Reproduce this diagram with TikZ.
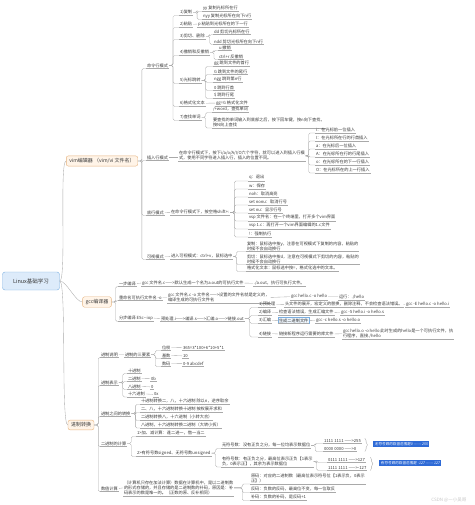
\documentclass[tikz,border=0pt]{standalone}
\usepackage{fontspec}
\setmainfont{Noto Sans CJK SC}
\newfontfamily\slantcjk[FakeSlant=0.18]{Noto Sans CJK SC}
\usetikzlibrary{calc, decorations.pathreplacing}

\definecolor{linegray}{HTML}{A9A9A9}
\definecolor{inkgray}{HTML}{3A3A3A}
\definecolor{rootfill}{HTML}{DDEBFA}
\definecolor{rootline}{HTML}{7AAEE0}
\definecolor{topicfill}{HTML}{FFF4E8}
\definecolor{topicline}{HTML}{E6B37E}
\definecolor{rangeblue}{HTML}{2E6AD6}

\begin{document}
\begin{tikzpicture}[
    x=1pt, y=-1pt,
    leaf/.style={anchor=south west, inner xsep=0.8pt, inner ysep=0.9pt,
      font=\fontsize{4.2}{5}\selectfont, text=inkgray, align=left,
      append after command={(\tikzlastnode.south west)
        edge[draw=linegray, line width=0.35pt] (\tikzlastnode.south east)}},
    link/.style={draw=linegray, line width=0.35pt, rounded corners=1.5pt},
    topic/.style={draw=topicline, fill=topicfill, rounded corners=2pt,
      font=\fontsize{5}{6}\selectfont, text=inkgray,
      inner xsep=3pt, inner ysep=2.5pt},
    hilite/.style={leaf, draw=rootline, fill=rootfill!50},
    rangebox/.style={anchor=west, fill=rangeblue, text=white, inner sep=1.5pt,
      font=\slantcjk\fontsize{3.6}{4.4}\selectfont},
    brace/.style={draw=linegray, line width=0.35pt,
      decorate, decoration={brace, amplitude=2.5pt}}
  ]
  \useasboundingbox (0,0) rectangle (474,505);

  % root and the three main topics
  \node[draw=rootline, fill=rootfill, rounded corners=2.5pt,
        minimum width=57pt, minimum height=18pt,
        font=\fontsize{5.5}{6.5}\selectfont, text=inkgray] (root) at (31,281)
    {Linux基础学习};
  \node[topic] (vim) at (102,161) {vim编辑器 （vim/vi 文件名）};
  \node[topic] (gcc) at (97,302) {gcc编译器};
  \node[topic] (jz) at (81,425) {进制转换};
  \foreach \b in {vim,gcc,jz}
    \draw[link] (root.east) .. controls +(7,0) and +(-7,0) .. (\b.west);

  % vim editor
  \node[leaf] (cmd) at (146,68.5) {命令行模式};
  \node[leaf] (ins) at (146,160.5) {插入行模式};
  \node[leaf] (bot) at (146,215.5) {底行模式};
  \node[leaf] (vis) at (146,259.5) {可视模式};
  \foreach \k in {cmd,ins,bot,vis}
    \draw[link] (vim.east) -- ++(4,0) |- (\k.south west);

  \node[leaf] (c1) at (179,15.5) {1)复制};
  \node[leaf] (c1a) at (202,11.5) {yy 复制光标所在行};
  \node[leaf] (c1b) at (202,19.5) {nyy 复制光标所在向下n行};
  \node[leaf] (c2) at (179,27.5) {2)粘贴};
  \node[leaf] (c2a) at (197,27.5) {p 粘贴到光标所在的下一行};
  \node[leaf] (c3) at (179,39.5) {3)剪切、删除};
  \node[leaf] (c3a) at (213,34.5) {dd 剪切光标所在行};
  \node[leaf] (c3b) at (213,44.5) {ndd 剪切光标所在向下n行};
  \node[leaf] (c4) at (179,55.5) {4)撤销和反撤销};
  \node[leaf] (c4a) at (218,50.5) {u 撤销};
  \node[leaf] (c4b) at (218,59.5) {ctrl+r 反撤销};
  \node[leaf] (c5) at (179,83.5) {5)光标跳转};
  \node[leaf] (c5a) at (213,66.5) {gg 跳到文件的首行};
  \node[leaf] (c5b) at (213,74.5) {G 跳到文件的尾行};
  \node[leaf] (c5c) at (213,82.5) {ngg 跳到第n行};
  \node[leaf] (c5d) at (213,90.5) {0 跳到行首};
  \node[leaf] (c5e) at (213,98.5) {\$ 跳到行尾};
  \node[leaf] (c6) at (179,106.5) {6)格式化文本};
  \node[leaf] (c6a) at (215,106.5) {gg=G 格式化文件};
  \node[leaf] (c7) at (179,120.5) {7)查找单词};
  \node[leaf] (c7a) at (212,112.5) {/+word，查找单词};
  \node[leaf] (c7b) at (212,128)
    {要查找的单词输入到底部之后，按下回车键，按n向下查找，\\按N向上查找};
  \foreach \k in {c1,c2,c3,c4,c5,c6,c7}
    \draw[link] (cmd.east) -- ++(4,0) |- (\k.south west);
  \foreach \k in {c1a,c1b} \draw[link] (c1.east) -- ++(4,0) |- (\k.south west);
  \foreach \k in {c3a,c3b} \draw[link] (c3.east) -- ++(4,0) |- (\k.south west);
  \foreach \k in {c4a,c4b} \draw[link] (c4.east) -- ++(4,0) |- (\k.south west);
  \foreach \k in {c5a,c5b,c5c,c5d,c5e}
    \draw[link] (c5.east) -- ++(4,0) |- (\k.south west);
  \foreach \k in {c7a,c7b} \draw[link] (c7.east) -- ++(4,0) |- (\k.south west);
  \draw[link] (c2.east) -- (c2a.west) (c6.east) -- (c6a.west);

  \node[leaf] (insd) at (178,161.5)
    {在命令行模式下，按下i/a/o/A/I/O六个字符，就可以进入到插入行模\\式，使用不同字符进入插入行，插入的位置不同。};
  \node[leaf] (i1) at (315,133) {i：在光标前一位插入};
  \node[leaf] (i2) at (315,141) {I：在光标所在行的行首插入};
  \node[leaf] (i3) at (315,149) {a：在光标后一位插入};
  \node[leaf] (i4) at (315,157) {A：在光标所在行的行尾插入};
  \node[leaf] (i5) at (315,165) {o：在光标所在的下一行插入};
  \node[leaf] (i6) at (315,173) {O：在光标所在的上一行插入};
  \draw[link] (ins.east) -- (ins.east -| insd.west);
  \foreach \k in {i1,i2,i3,i4,i5,i6}
    \draw[link] (insd.east) -- ++(3,0) |- (\k.south west);

  \node[leaf] (botd) at (170,215.5) {在命令行模式下，按空格shift+:};
  \node[leaf] (b1) at (248,181) {q：退出};
  \node[leaf] (b2) at (248,189) {w：保存};
  \node[leaf] (b3) at (248,197) {noh：取消高亮};
  \node[leaf] (b4) at (248,205) {set nonu：取消行号};
  \node[leaf] (b5) at (248,213) {set nu：显示行号};
  \node[leaf] (b6) at (248,221) {vsp 文件名：在一个终端里，打开多个vim界面};
  \node[leaf] (b7) at (248,229) {vsp 1.c：再打开一个vim界面编辑的1.c文件};
  \node[leaf] (b8) at (248,237) {!：强制执行};
  \draw[link] (bot.east) -- (botd.west);
  \foreach \k in {b1,b2,b3,b4,b5,b6,b7,b8}
    \draw[link] (botd.east) -- ++(4,0) |- (\k.south west);

  \node[leaf] (visd) at (170,259.5) {进入可视模式：ctrl+v，鼠标选中};
  \node[leaf] (v1) at (246,251.5)
    {复制：鼠标选中按y，注意在可视模式下复制的内容，粘贴的\\时候不会自动换行};
  \node[leaf] (v2) at (246,264.5)
    {剪切：鼠标选中按d，注意在可视模式下剪切的内容，粘贴的\\时候不会自动换行};
  \node[leaf] (v3) at (246,271.5) {格式化文本：鼠标选中按=，格式化选中的文本。};
  \draw[link] (vis.east) -- (visd.west);
  \foreach \k in {v1,v2,v3}
    \draw[link] (visd.east) -- ++(3,0) |- (\k.south west);

  % gcc compiler
  \node[leaf] (g1) at (118,286.5) {一步编译};
  \node[leaf] (g1a) at (141,286.5) {gcc 文件名.c——>默认生成一个名为a.out的可执行文件};
  \node[leaf] (g1b) at (253,286.5) {./a.out，执行可执行文件。};
  \node[leaf] (g2) at (118,300.5) {重命名可执行文件名 -o};
  \node[leaf] (g2a) at (167,303)
    {gcc 文件名.c -o 文件名——>设置的文件名就是定义的，\\编译生成的可执行文件名};
  \node[leaf] (g2b) at (290,300) {gcc hello.c -o hello};
  \node[leaf] (g2c) at (338,300) {运行：./hello};
  \node[leaf] (g3) at (118,321.5) {分步编译 ESc{-}{-}iop};
  \node[leaf] (g3a) at (160,321.5) {预处理.i——>编译.s——>汇编.o——>链接.out};
  \foreach \k in {g1,g2,g3}
    \draw[link] (gcc.east) -- ++(4,0) |- (\k.south west);
  \draw[link] (g1.east) -- (g1a.west) (g1a.east) -- (g1b.west);
  \draw[link] (g2.east) -- (g2a.west) (g2a.east) -- (g2b.west)
    (g2b.east) -- (g2c.west);
  \draw[link] (g3.east) -- (g3a.west);

  \node[leaf] (g31) at (258,307.5) {1)预处理};
  \node[leaf] (g31a) at (284,307.5) {头文件的展开，宏定义的替换，删除注释，不会检查语法错误。};
  \node[leaf] (g31b) at (405,307.5) {gcc -E hello.c -o hello.i};
  \node[leaf] (g32) at (258,315.5) {2)编译};
  \node[leaf] (g32a) at (278,315.5) {检查语法错误，生成汇编文件};
  \node[leaf] (g32b) at (340,315.5) {gcc -S hello.i -o hello.s};
  \node[leaf] (g33) at (258,323.5) {3)汇编};
  \node[hilite] (g33a) at (278,323.5) {生成二进制文件};
  \node[leaf] (g33b) at (315,323.5) {gcc -c hello.s -o hello.o};
  \node[leaf] (g34) at (258,337) {4)链接};
  \node[leaf] (g34a) at (278,337) {链接新程序运行需要的库文件};
  \node[leaf] (g34b) at (342,339.5)
    {gcc hello.o -o hello 此时生成的hello是一个可执行文件，执\\行程序，直接./hello};
  \foreach \k in {g31,g32,g33,g34}
    \draw[link] (g3a.east) -- ++(5,0) |- (\k.south west);
  \foreach \p/\q/\r in {g31/g31a/g31b, g32/g32a/g32b, g33/g33a/g33b, g34/g34a/g34b}
    \draw[link] (\p.east) -- (\q.west) (\q.east) -- (\r.west);

  % number systems
  \node[leaf] (j1) at (100,357.5) {进制说明};
  \node[leaf] (j2) at (100,385.5) {进制表示};
  \node[leaf] (j3) at (100,416.5) {进制之间的转换};
  \node[leaf] (j4) at (100,446.5) {二进制的计算};
  \node[leaf] (j5) at (100,491.5) {数值计算};
  \foreach \k in {j1,j2,j3,j4,j5}
    \draw[link] (jz.east) -- ++(4,0) |- (\k.south west);

  \node[leaf] (j1a) at (124,357.5) {进制的三要素};
  \node[leaf] (w1) at (161,350.5) {位权};
  \node[leaf] (w1v) at (182,350.5) {365=3*100+6*10+5*1};
  \node[leaf] (w2) at (161,358.5) {基数};
  \node[leaf] (w2v) at (182,358.5) {10};
  \node[leaf] (w3) at (161,366.5) {数码};
  \node[leaf] (w3v) at (182,366.5) {0-9 abcdef};
  \draw[link] (j1.east) -- (j1a.west);
  \foreach \k in {w1,w2,w3}
    \draw[link] (j1a.east) -- ++(4,0) |- (\k.south west);
  \draw[link] (w1.east) -- (w1v.west) (w2.east) -- (w2v.west)
    (w3.east) -- (w3v.west);

  \node[leaf] (r1) at (127,373.5) {十进制};
  \node[leaf] (r2) at (127,381.5) {二进制};
  \node[leaf] (r2v) at (150,381.5) {0b};
  \node[leaf] (r3) at (127,389.5) {八进制};
  \node[leaf] (r3v) at (150,389.5) {0};
  \node[leaf] (r4) at (127,397) {十六进制};
  \node[leaf] (r4v) at (153,397) {0x};
  \foreach \k in {r1,r2,r3,r4}
    \draw[link] (j2.east) -- ++(4,0) |- (\k.south west);
  \draw[link] (r2.east) -- (r2v.west) (r3.east) -- (r3v.west)
    (r4.east) -- (r4v.west);

  \node[leaf] (t1) at (140,404.5) {十进制转换二，八，十六进制 除以n，逆序取余};
  \node[leaf] (t2) at (140,412.5) {二、八，十六进制转换十进制 按权展开求和};
  \node[leaf] (t3) at (140,420.5) {二进制转换八，十六进制（小转大合）};
  \node[leaf] (t4) at (140,428) {八进制，十六进制转换二进制（大转小拆）};
  \foreach \k in {t1,t2,t3,t4}
    \draw[link] (j3.east) -- ++(4,0) |- (\k.south west);

  \node[leaf] (j41) at (136,436.5) {1>加、减计算：逢二进一，借一当二};
  \node[leaf] (j42) at (136,456.5) {2>有符号数signed、无符号数unsigned};
  \foreach \k in {j41,j42}
    \draw[link] (j4.east) -- ++(4,0) |- (\k.south west);
  \node[leaf] (j421) at (221,448.5) {无符号数：没有正负之分，每一位均表示数据位};
  \node[leaf] (j422) at (221,467)
    {有符号数：有正负之分，最高位表示正负【1表示\\负，0表示正】，其余为表示数据位};
  \foreach \k in {j421,j422}
    \draw[link] (j42.east) -- ++(4,0) |- (\k.south west);

  \node[leaf] (u1) at (323,443.5) {1111 1111 ——>255};
  \node[leaf] (u2) at (323,451.5) {0000 0000 ——>0};
  \foreach \k in {u1,u2}
    \draw[link] (j421.east) -- ++(4,0) |- (\k.south west);
  \draw[brace] ([xshift=3pt]u1.north east) -- ([xshift=3pt]u1.north east |- u2.south);
  \node[rangebox] (urange) at (373,444) {无符号数的取值范围是0 ------ 255};

  \node[leaf] (s1) at (327,462.5) {0111 1111 ——>127};
  \node[leaf] (s2) at (327,470.5) {1111 1111 ——>-127};
  \foreach \k in {s1,s2}
    \draw[link] (j422.east) -- ++(3,0) |- (\k.south west);
  \draw[brace] ([xshift=3pt]s2.east |- s1.north) -- ([xshift=3pt]s2.south east);
  \node[rangebox] (srange) at (379,463) {有符号数的取值范围是 -127 ------ 127};

  \node[leaf] (j5a) at (123,496)
    {（计算机只存在加法计算）数据在计算机中，是以二进制数\\的形式存储的，并且存储的是二进制数的补码，原因是：补\\码表示的数是唯一的。（正数的原、反补相同）};
  \node[leaf] (y1) at (250,484)
    {原码：对应的二进制数（最高位表示符号位【1表示负，0表示\\正】）};
  \node[leaf] (y2) at (250,492.5) {反码：负数的反码，最高位不变，每一位取反};
  \node[leaf] (y3) at (250,500.5) {补码：负数的补码，是反码+1};
  \draw[link] (j5.east) -- (j5a.west);
  \foreach \k in {y1,y2,y3}
    \draw[link] (j5a.east) -- ++(8,0) |- (\k.south west);

  \node[anchor=east, font=\fontsize{4.5}{5}\selectfont, text=gray!45] (wm)
    at (470,500) {CSDN @一小吴哥};
\end{tikzpicture}
\end{document}
